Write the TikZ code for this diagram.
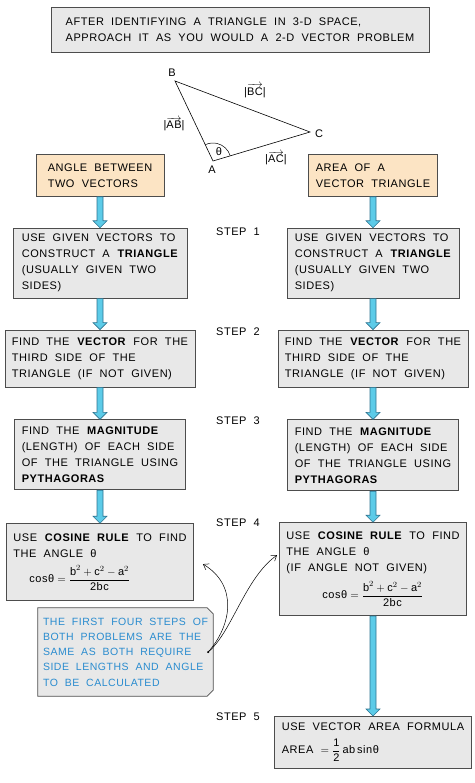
\documentclass[tikz,border=0pt]{standalone}
\usepackage{amsmath}
\usepackage{fontspec}
\setmainfont[LetterSpace=5,WordSpace=2]{Liberation Sans}
\usetikzlibrary{positioning,arrows.meta,calc,angles,backgrounds}
\definecolor{boxgray}{HTML}{E8E8E8}
\definecolor{boxedge}{HTML}{4D4D4D}
\definecolor{peach}{HTML}{FCE4C4}
\definecolor{arrowblue}{HTML}{5CCBE8}
\definecolor{arrowedge}{HTML}{2E7390}
\definecolor{noteblue}{HTML}{2A8CCF}
\tikzset{
  stepbox/.style={draw=boxedge, fill=boxgray, line width=0.8pt, align=left, inner xsep=7pt, inner ysep=4pt},
  topicbox/.style={stepbox, fill=peach},
  notetext/.style={align=left, text=noteblue, font=\fontsize{10.5}{15.3}\selectfont},
  noteframe/.style={draw=boxedge, fill=boxgray, line width=0.8pt},
  blockarrow/.style={fill=arrowblue, draw=arrowedge, line width=0.6pt},
  linkarrow/.style={-{Straight Barb[length=5pt,width=7pt]}, line width=0.5pt}
}
\newcommand{\fatarrow}[2]{%
  \filldraw[blockarrow] let \p1=(#1.south), \p2=(#2.north) in
    (\x1-3pt,\y1) -- (\x1+3pt,\y1) -- (\x1+3pt,\y2+7pt) -- (\x1+7pt,\y2+7pt)
    -- (\x1,\y2) -- (\x1-7pt,\y2+7pt) -- (\x1-3pt,\y2+7pt) -- cycle;}
\newcommand{\cosrule}{$\text{cosθ} = \dfrac{\text{b}^2+\text{c}^2-\text{a}^2}{\text{2bc}}$}
\begin{document}
\begin{tikzpicture}[x=1pt,y=-1pt,font=\fontsize{11}{16}\selectfont]
\useasboundingbox (0,0) rectangle (474,783);

\node[stepbox, anchor=north, minimum width=378pt, minimum height=45pt] (intro) at (240,7)
  {AFTER IDENTIFYING A TRIANGLE IN 3-D SPACE,\\APPROACH IT AS YOU WOULD A 2-D VECTOR PROBLEM};

% triangle
\coordinate (A) at (213,161);
\coordinate (B) at (175,81);
\coordinate (C) at (310,132);
\draw[line width=0.6pt] (A) -- (B) -- (C) -- cycle;
\pic[draw, line width=0.5pt, angle radius=18pt] {angle = C--A--B};
\node (theta) at (219,152) {θ};
\node (lblA) at (212,170) {A};
\node (lblB) at (172,73) {B};
\node (lblC) at (319,134) {C};
\node (lenAB) at (174,124) {|$\overrightarrow{\text{AB}}$|};
\node (lenBC) at (255,91) {|$\overrightarrow{\text{BC}}$|};
\node (lenAC) at (276,158) {|$\overrightarrow{\text{AC}}$|};

% left column
\node[topicbox, anchor=north, minimum width=128pt, minimum height=42pt] (angle) at (100,154)
  {ANGLE BETWEEN\\TWO VECTORS};
\node[stepbox, minimum width=174pt, minimum height=70pt, below=31pt of angle] (angle1)
  {USE GIVEN VECTORS TO\\CONSTRUCT A \textbf{TRIANGLE}\\(USUALLY GIVEN TWO\\SIDES)};
\node[stepbox, minimum width=184pt, minimum height=57pt, below=31pt of angle1] (angle2)
  {FIND THE \textbf{VECTOR} FOR THE\\THIRD SIDE OF THE\\TRIANGLE (IF NOT GIVEN)};
\node[stepbox, minimum width=168pt, minimum height=70pt, below=32pt of angle2] (angle3)
  {FIND THE \textbf{MAGNITUDE}\\(LENGTH) OF EACH SIDE\\OF THE TRIANGLE USING\\\textbf{PYTHAGORAS}};
\node[stepbox, minimum width=176pt, minimum height=77pt, below=33pt of angle3] (angle4)
  {USE \textbf{COSINE RULE} TO FIND\\THE ANGLE θ\\[7pt]\hspace*{16pt}\cosrule};

% right column
\node[topicbox, anchor=north, minimum width=128pt, minimum height=42pt] (area) at (373,154)
  {AREA OF A\\VECTOR TRIANGLE};
\node[stepbox, minimum width=172pt, minimum height=70pt, below=31pt of area] (area1)
  {USE GIVEN VECTORS TO\\CONSTRUCT A \textbf{TRIANGLE}\\(USUALLY GIVEN TWO\\SIDES)};
\node[stepbox, minimum width=184pt, minimum height=57pt, below=31pt of area1] (area2)
  {FIND THE \textbf{VECTOR} FOR THE\\THIRD SIDE OF THE\\TRIANGLE (IF NOT GIVEN)};
\node[stepbox, minimum width=168pt, minimum height=71pt, below=32pt of area2] (area3)
  {FIND THE \textbf{MAGNITUDE}\\(LENGTH) OF EACH SIDE\\OF THE TRIANGLE USING\\\textbf{PYTHAGORAS}};
\node[stepbox, minimum width=178pt, minimum height=93pt, below=31pt of area3] (area4)
  {USE \textbf{COSINE RULE} TO FIND\\THE ANGLE θ\\(IF ANGLE NOT GIVEN)\\[7pt]\hspace*{36pt}\cosrule};
\node[stepbox, minimum width=188pt, minimum height=52pt, below=100pt of area4] (area5)
  {USE VECTOR AREA FORMULA\\[7pt]AREA $= \dfrac{\text{1}}{\text{2}}$\,ab\,sinθ};

% step labels
\node (step1) at (238,232) {STEP 1};
\node (step2) at (238,332) {STEP 2};
\node (step3) at (238,421) {STEP 3};
\node (step4) at (238,523) {STEP 4};
\node (step5) at (238,717) {STEP 5};

\fatarrow{angle}{angle1}
\fatarrow{angle1}{angle2}
\fatarrow{angle2}{angle3}
\fatarrow{angle3}{angle4}
\fatarrow{area}{area1}
\fatarrow{area1}{area2}
\fatarrow{area2}{area3}
\fatarrow{area3}{area4}
\fatarrow{area4}{area5}

% note and links
\node[notetext, minimum width=175pt, minimum height=88pt] (note) at (125.5,652)
  {THE FIRST FOUR STEPS OF\\BOTH PROBLEMS ARE THE\\SAME AS BOTH REQUIRE\\SIDE LENGTHS AND ANGLE\\TO BE CALCULATED};
\begin{scope}[on background layer]
\filldraw[noteframe] (note.north west) -- ([xshift=-6pt]note.north east) -- ([yshift=-6pt]note.north east)
  -- ([yshift=6pt]note.south east) -- ([xshift=-6pt]note.south east) -- (note.south west) -- cycle;
\end{scope}
\coordinate (tail) at ([xshift=-5pt]note.east);
\coordinate (headL) at ([xshift=9pt,yshift=-2pt]angle4.east);
\coordinate (headR) at ([xshift=-2pt,yshift=14pt]area4.west);
\fill (tail) circle (1.2pt);
\draw[linkarrow] (tail) .. controls (232,625) and (238,585) .. (headL);
\draw[linkarrow] (tail) .. controls (232,632) and (245,578) .. (headR);
\end{tikzpicture}
\end{document}
